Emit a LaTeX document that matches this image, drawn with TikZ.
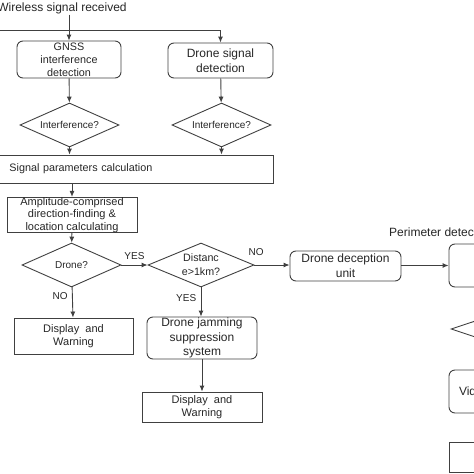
\documentclass[tikz,border=0pt]{standalone}
\usepackage{fontspec}
\setmainfont{Liberation Sans}
\usetikzlibrary{arrows.meta,shapes.geometric}
\definecolor{linegray}{HTML}{404040}
\newcommand{\fsz}[2]{\fontsize{#1}{#2}\selectfont}
\tikzset{
  box/.style={draw=linegray,line width=0.9pt,rectangle,align=center,
    inner xsep=1pt,inner ysep=0pt},
  rbox/.style={box,rounded corners=6pt},
  dia/.style={draw=linegray,line width=0.9pt,diamond,aspect=2.2,
    inner sep=0pt,align=center},
  arr/.style={draw=linegray,line width=0.9pt,-{Latex[length=6pt,width=5pt]}},
  yesno/.style={font=\fsz{10}{12}}
}

\begin{document}
\begin{tikzpicture}[x=1pt,y=-1pt,text=black!85]
    \useasboundingbox (0,0) rectangle (474,474);
    \clip (0,0) rectangle (474,474);
    % input and the two detection branches
    \node[anchor=base,inner sep=1pt,font=\fsz{12}{14}] (wire) at (62,11)
      {Wireless signal received};
    \coordinate (inL) at (-2,30);
    \node[rbox,minimum width=104,minimum height=37,font=\fsz{10.8}{13}]
      (gnss) at (69,59.5) {GNSS\\interference\\detection};
    \node[rbox,minimum width=105,minimum height=35,font=\fsz{12}{15}]
      (dsd) at (220.5,60.5) {Drone signal\\detection};
    \node[dia,minimum width=99,minimum height=44,font=\fsz{10}{12}]
      (gi) at (69.5,125) {Interference?};
    \node[dia,minimum width=99,minimum height=44,font=\fsz{10}{12}]
      (di) at (221.5,125) {Interference?};
    \draw[arr] (wire.south -| gnss.north) -- (gnss.north);
    \draw[arr] (inL) -| (dsd.north);
    \draw[arr] (gnss) -- (gi);
    \draw[arr] (dsd) -- (di);
    % common processing
    \node[box,anchor=west,minimum width=274,minimum height=28,text width=254,
      align=left,inner xsep=10pt,font=\fsz{10.8}{13}]
      (sig) at (-1,169) {Signal parameters calculation};
    \draw[arr] (gi.south) -- (gi.south |- sig.north);
    \draw[arr] (di.south) -- (di.south |- sig.north);
    \node[box,minimum width=130,minimum height=34,font=\fsz{11}{12.5}]
      (amp) at (72,215)
      {Amplitude-comprised\\direction-finding \&\\location calculating};
    \draw[arr] (sig.south -| amp.north) -- (amp.north);
    % decisions
    \node[dia,minimum width=99,minimum height=44,font=\fsz{10}{12}]
      (drn) at (71.5,265) {Drone?};
    \node[dia,minimum width=106,minimum height=44,font=\fsz{10.7}{14}]
      (dist) at (201,265) {Distanc\\e>1km?};
    \node[rbox,minimum width=111,minimum height=30,font=\fsz{12}{15}]
      (dec) at (345.5,266) {Drone deception\\unit};
    \node[rbox,minimum width=111,minimum height=43] (per) at (504.5,265.5) {};
    \node[anchor=west,inner sep=0pt,font=\fsz{12}{14}] (pertxt) at (389,232)
      {Perimeter detection};
    \draw[arr] (amp) -- (drn);
    \draw[arr] (drn) -- node[yesno,above=2pt] {YES} (dist);
    \draw[arr] (dist.east) -- node[yesno,pos=0.05,above=6pt] {NO}
      (dist.east -| dec.west);
    \draw[arr] (dec.east |- per.west) -- (per.west);
    % outcomes
    \node[box,minimum width=119,minimum height=36,font=\fsz{11}{13}]
      (dispA) at (73.5,336) {Display~ and\\Warning};
    \node[rbox,minimum width=110,minimum height=42,font=\fsz{12}{14.5}]
      (jam) at (202,338) {Drone jamming\\suppression\\system};
    \node[box,minimum width=120,minimum height=30,font=\fsz{11}{12.7}]
      (dispB) at (202,407) {Display~ and\\Warning};
    \draw[arr] (drn) -- node[yesno,pos=0.3,left=1pt] {NO} (dispA);
    \draw[arr] (dist.south) -- node[yesno,pos=0.35,left=1pt] {YES}
      (dist.south |- jam.north);
    \draw[arr] (jam.south) -- (jam.south |- dispB.north);
    % right column, cut off by the frame
    \node[dia,minimum width=120,minimum height=40] (pd) at (511,329) {};
    \node[rbox,minimum width=111,minimum height=43,text width=91,align=left,
      inner xsep=10pt,font=\fsz{12}{14}] (vid) at (504.5,391.5) {Video};
    \node[box,minimum width=111,minimum height=30] (pbot) at (504.5,457) {};
  \end{tikzpicture}
\end{document}
